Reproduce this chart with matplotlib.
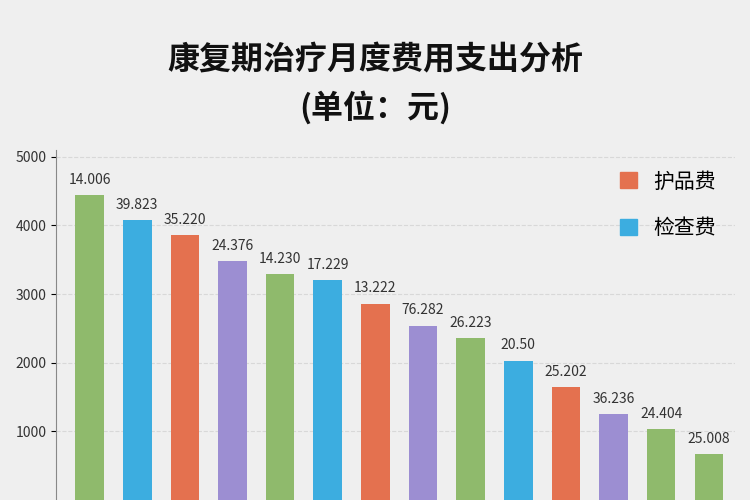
import matplotlib
matplotlib.use("Agg")
import matplotlib.pyplot as plt
from matplotlib.patches import Patch

plt.rcParams['font.family'] = ['Noto Sans CJK SC', 'DejaVu Sans']

values = [4440, 4080, 3860, 3480, 3290, 3200, 2860, 2540, 2360, 2030, 1650, 1250, 1030, 670]
labels = ["14.006", "39.823", "35.220", "24.376", "14.230", "17.229", "13.222",
          "76.282", "26.223", "20.50", "25.202", "36.236", "24.404", "25.008"]
green, blue, orange, purple = "#8fba6c", "#3cade0", "#e4714f", "#9c8ed2"
colors = [green, blue, orange, purple, green, blue, orange, purple,
          green, blue, orange, purple, green, green]
legend_names = ["护品费", "检查费"]
yticks = [1000, 2000, 3000, 4000, 5000]

fig = plt.figure(figsize=(7.5, 5), dpi=100, facecolor="#efefef")
ax = fig.add_axes([0.075, 0.0, 0.905, 0.70])
ax.set_facecolor("#efefef")
x = range(len(values))
ax.bar(x, values, width=0.6, color=colors, zorder=3)
for i, (v, l) in enumerate(zip(values, labels)):
    ax.text(i, v + 120, l, ha="center", va="bottom", fontsize=10, color="#333333")
ax.set_xlim(-0.7, len(values) - 0.45)
ax.set_ylim(0, 5100)
ax.set_yticks(yticks)
ax.set_yticklabels([str(t) for t in yticks], fontsize=10, color="#333333")
ax.yaxis.grid(True, color="#d8d8d8", linestyle="--", linewidth=0.8, zorder=0)
ax.set_xticks([])
for s in ["top", "right", "bottom"]:
    ax.spines[s].set_visible(False)
ax.spines["left"].set_color("#888888")
ax.legend(handles=[Patch(color=orange, label=legend_names[0]),
                   Patch(color=blue, label=legend_names[1])],
          loc="upper right", bbox_to_anchor=(1.0, 0.995), frameon=False,
          fontsize=15, handlelength=0.8, handleheight=0.8, labelspacing=1.2)
fig.text(0.5, 0.88, "康复期治疗月度费用支出分析", ha="center", va="center",
         fontsize=23, fontweight="bold", color="#111111")
fig.text(0.5, 0.785, "(单位：元)", ha="center", va="center",
         fontsize=23, fontweight="bold", color="#111111")
fig.savefig("out.png", dpi=100, facecolor=fig.get_facecolor())
